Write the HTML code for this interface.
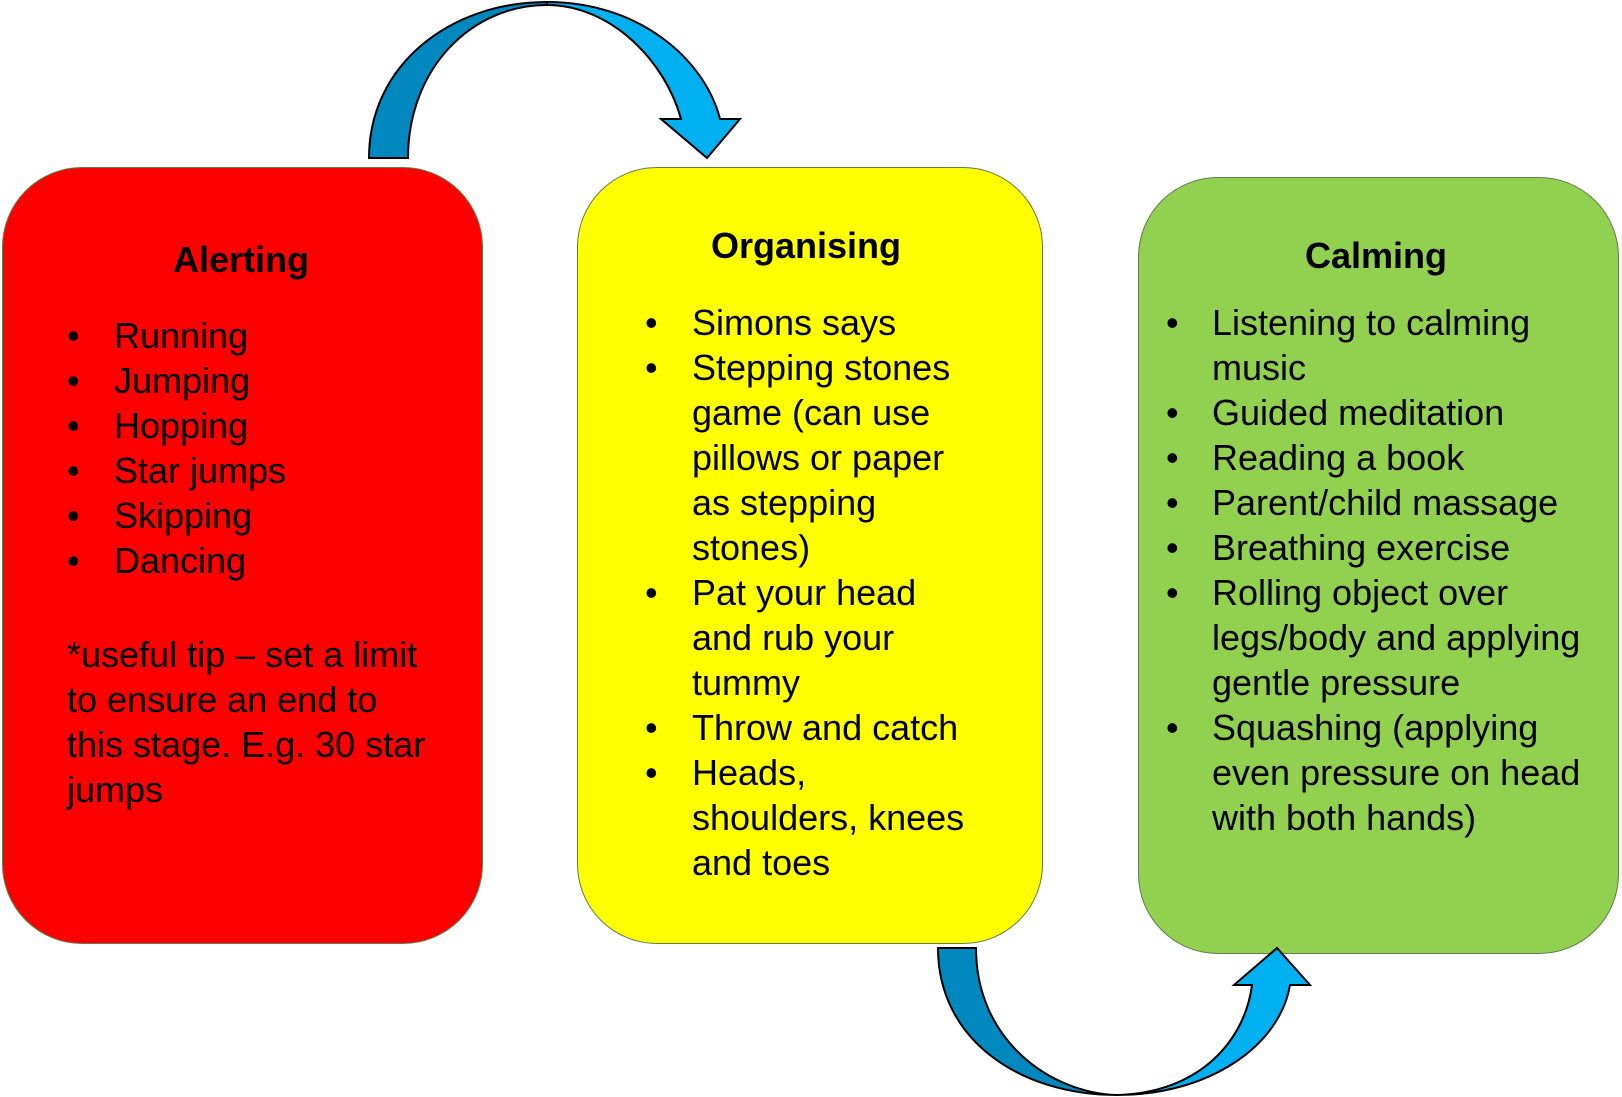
<!DOCTYPE html>
<html><head><meta charset="utf-8"><style>
body{margin:0;width:1622px;height:1097px;background:#fff;position:relative;overflow:hidden;font-family:"Liberation Sans",Arial,sans-serif;}
.box{position:absolute;border:1.5px solid #5f7d4c;box-sizing:border-box;border-radius:80px;}
.t{position:absolute;font-size:36px;line-height:45px;color:#000;white-space:nowrap;}
.h{position:absolute;font-size:36px;font-weight:bold;line-height:45px;text-align:center;white-space:nowrap;}
.b{position:absolute;font-size:30px;line-height:45px;}
svg{position:absolute;left:0;top:0;}
</style></head><body>
<div class="box" style="left:2px;top:167px;width:481px;height:777px;background:#ff0000"></div>
<div class="box" style="left:577px;top:167px;width:466px;height:777px;background:#ffff00"></div>
<div class="box" style="left:1138px;top:177px;width:481px;height:777px;background:#92d050"></div>

<svg width="1622" height="1097">
<path d="M369,158 C369,65 450,2 547,2 L547,5 C470,5 408,70 408,158 Z" fill="#0088bf" stroke="#000" stroke-width="2"/>
<path d="M547,2 C640,2 705,60 720,119 L740,119 L707,158 L661,119 L681,119 C665,60 610,5 547,5 Z" fill="#00b0f0" stroke="#000" stroke-width="2"/>
<path d="M938,948 L976,948 C976,1040 1050,1093 1117,1095 L1117,1095 C1020,1095 938,1040 938,948 Z" fill="#0088bf" stroke="#000" stroke-width="2"/>
<path d="M1117,1095 C1200,1093 1245,1040 1252,985 L1234,985 L1277,948 L1310,985 L1290,985 C1280,1045 1210,1095 1117,1095 Z" fill="#00b0f0" stroke="#000" stroke-width="2"/>
</svg>

<div class="h" style="left:141px;width:200px;top:237px">Alerting</div>
<div class="t" style="left:67px;top:313px">•</div><div class="t" style="left:114px;top:313px">Running</div>
<div class="t" style="left:67px;top:358px">•</div><div class="t" style="left:114px;top:358px">Jumping</div>
<div class="t" style="left:67px;top:403px">•</div><div class="t" style="left:114px;top:403px">Hopping</div>
<div class="t" style="left:67px;top:448px">•</div><div class="t" style="left:114px;top:448px">Star jumps</div>
<div class="t" style="left:67px;top:493px">•</div><div class="t" style="left:114px;top:493px">Skipping</div>
<div class="t" style="left:67px;top:538px">•</div><div class="t" style="left:114px;top:538px">Dancing</div>
<div class="t" style="left:67px;top:632px">*useful tip – set a limit<br>to ensure an end to<br>this stage. E.g. 30 star<br>jumps</div>

<div class="h" style="left:656px;width:300px;top:223px">Organising</div>
<div class="t" style="left:645px;top:300px">•<br>•<br><br><br><br><br>•<br><br><br>•<br>•</div>
<div class="t" style="left:692px;top:300px">Simons says<br>Stepping stones<br>game (can use<br>pillows or paper<br>as stepping<br>stones)<br>Pat your head<br>and rub your<br>tummy<br>Throw and catch<br>Heads,<br>shoulders, knees<br>and toes</div>

<div class="h" style="left:1226px;width:300px;top:233px">Calming</div>
<div class="t" style="left:1166px;top:300px">•<br><br>•<br>•<br>•<br>•<br>•<br><br><br>•</div>
<div class="t" style="left:1212px;top:300px">Listening to calming<br>music<br>Guided meditation<br>Reading a book<br>Parent/child massage<br>Breathing exercise<br>Rolling object over<br>legs/body and applying<br>gentle pressure<br>Squashing (applying<br>even pressure on head<br>with both hands)</div>
</body></html>
